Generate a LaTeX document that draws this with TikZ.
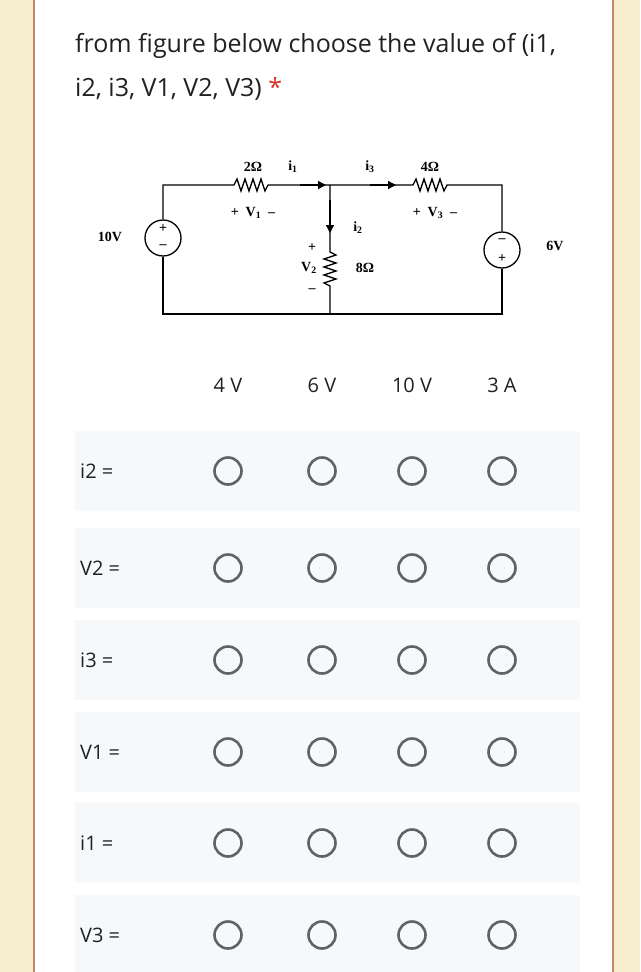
\documentclass[tikz,border=0pt]{standalone}
\usepackage{fontspec}
\setmainfont{Liberation Serif}
\newfontfamily\uifont{Open Sans}
\usetikzlibrary{arrows.meta}
\definecolor{bgy}{HTML}{F7EED0}
\definecolor{cardedge}{HTML}{C8846E}
\definecolor{band}{HTML}{F7F8FA}
\definecolor{radio}{HTML}{5F6368}
\definecolor{txt}{HTML}{202124}
\tikzset{
 wire/.style={line width=1.3pt, black},
 lbl/.style={font=\fontsize{14}{14}\selectfont\bfseries, inner sep=0pt},
 ui/.style={font=\uifont\fontsize{20}{20}\selectfont, text=txt, inner sep=0pt},
 radiobtn/.style={circle, draw=radio, line width=2.6pt, minimum size=27pt, inner sep=0pt},
 src/.style={circle, draw=black, line width=1.3pt, minimum size=36pt, inner sep=0pt},
 flow/.style={-{Triangle[length=8pt,width=8pt]}, line width=1.3pt},
}
\begin{document}
\begin{tikzpicture}[x=1pt,y=-1pt]
\useasboundingbox (0,0) rectangle (640,972);
\fill[bgy] (0,0) rectangle (640,972);
\fill[white] (34,-2) rectangle (613,974);
\draw[cardedge, line width=1.2pt] (34,-2) -- (34,974) (613,-2) -- (613,974);
% title
\node[ui, anchor=base west, font=\uifont\fontsize{25}{25}\selectfont] (t1) at (75,52) {from figure below choose the value of (i1,};
\node[ui, anchor=base west, font=\uifont\fontsize{25}{25}\selectfont] (t2) at (75,96) {i2, i3, V1, V2, V3) \textcolor[HTML]{D93025}{*}};
% circuit
\coordinate (tl) at (163,185); \coordinate (bl) at (163,314);
\coordinate (tm) at (330,185); \coordinate (bm) at (330,314);
\coordinate (tr) at (502,185); \coordinate (br) at (502,314);
\node[src] (s1) at (163,238) {};
\node[src] (s2) at (502,250) {};
\node[lbl] at (163,229) {+}; \node[lbl] at (163,247) {–};
\node[lbl] at (502,241) {–}; \node[lbl] at (502,259) {+};
\coordinate (r1a) at (234,185); \coordinate (r1b) at (268,185);
\coordinate (r3a) at (413,185); \coordinate (r3b) at (447,185);
\coordinate (r2a) at (330,252); \coordinate (r2b) at (330,286);
\draw[wire] (s1.north) -- (tl) -- (r1a)
  -- ++(3,-6) -- ++(4,12) -- ++(4,-12) -- ++(4,12) -- ++(4,-12) -- ++(4,12) -- ++(4,-12) -- ++(4,12) -- ++(3,-6) -- (r1b) -- (tm) -- (r3a)
  -- ++(3,-6) -- ++(4,12) -- ++(4,-12) -- ++(4,12) -- ++(4,-12) -- ++(4,12) -- ++(4,-12) -- ++(4,12) -- ++(3,-6) -- (r3b) -- (tr) -- (s2.north);
\draw[wire] (s2.south) -- (br) -- (bl) -- (s1.south);
\draw[wire] (tm) -- (r2a) -- ++(6,3) -- ++(-12,4) -- ++(12,4) -- ++(-12,4) -- ++(12,4) -- ++(-12,4) -- ++(12,4) -- ++(-12,4) -- ++(6,3) -- (r2b) -- (bm);
\draw[flow] (300,185) -- (326,185);
\draw[flow] (370,185) -- (396,185);
\draw[flow] (330,200) -- (330,233);
\node[lbl] at (253,167) {2Ω};
\node[lbl] at (293,167) {i\textsubscript{1}};
\node[lbl] at (370,167) {i\textsubscript{3}};
\node[lbl] at (430,167) {4Ω};
\node[lbl] at (253,213) {+\ \ V\textsubscript{1}\ \ –};
\node[lbl] at (435,213) {+\ \ V\textsubscript{3}\ \ –};
\node[lbl] at (358,228) {i\textsubscript{2}};
\node[lbl] at (365,268) {8Ω};
\node[lbl] at (312,248) {+};
\node[lbl] at (309,268) {V\textsubscript{2}};
\node[lbl] at (312,291) {–};
\node[lbl] at (110,237) {10V};
\node[lbl] at (555,246) {6V};
% headers
\foreach \x/\t in {228/4 V, 322/6 V, 412/10 V, 502/3 A}
  \node[ui] at (\x,385) {\t};
% rows
\foreach \r/\t [count=\k] in {471/i2 =, 568/V2 =, 660/i3 =, 752/V1 =, 843/i1 =, 935/V3 =}{
  \fill[band] (75,\r-40) rectangle (580,\r+40);
  \node[ui, anchor=west] (lab\k) at (80,\r) {\t};
  \foreach \x [count=\j] in {228,322,412,502}
    \node[radiobtn] (rb\k\j) at (\x,\r) {};
}
\end{tikzpicture}
\end{document}
